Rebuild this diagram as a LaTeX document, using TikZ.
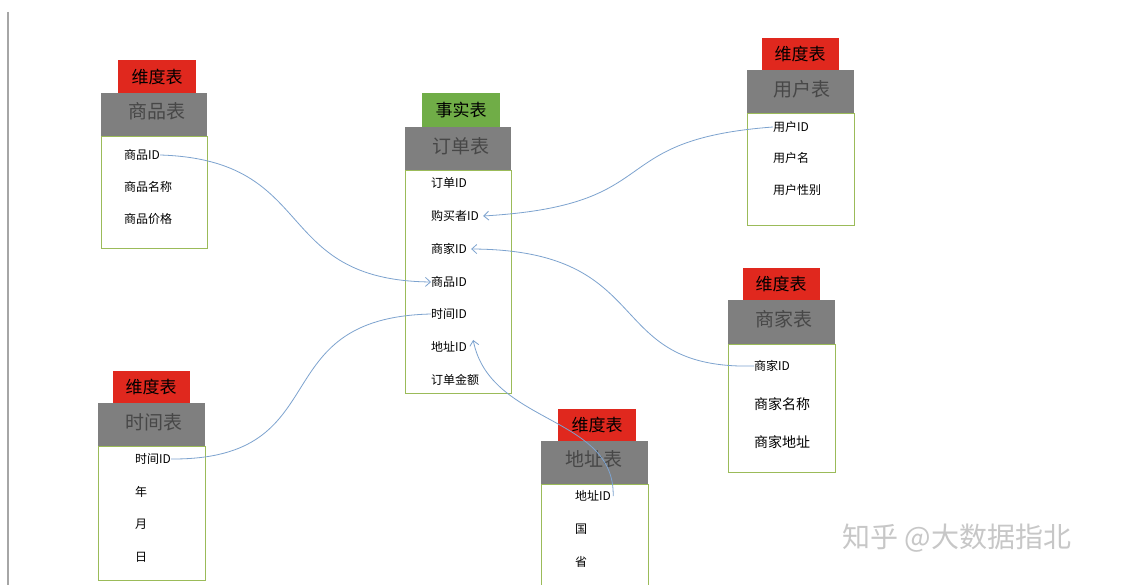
\documentclass[tikz,border=0pt]{standalone}
\usepackage{fontspec}
\setmainfont{Noto Sans CJK SC}
\usetikzlibrary{arrows.meta}
\definecolor{tagred}{HTML}{E0281E}
\definecolor{taggreen}{HTML}{70AD47}
\definecolor{hdr}{HTML}{7F7F7F}
\definecolor{brd}{HTML}{9BBB59}
\definecolor{lnk}{HTML}{7DA3CF}
\begin{document}
\begin{tikzpicture}[x=1pt,y=-1pt,
  body/.style={draw=brd,line width=0.8pt,fill=white},
  hbox/.style={fill=hdr},
  tagr/.style={fill=tagred},
  tagg/.style={fill=taggreen},
  tagtxt/.style={font=\fontsize{17}{17}\selectfont,text=black},
  htxt/.style={font=\fontsize{19}{19}\selectfont,text=black!72},
  row/.style={anchor=west,font=\fontsize{12}{12}\selectfont,inner sep=0pt},
  rowb/.style={anchor=west,font=\fontsize{14}{14}\selectfont,inner sep=0pt},
  link/.style={draw=lnk,line width=0.8pt},
  arr/.style={-{Straight Barb[length=5pt,width=9pt]}}]
\useasboundingbox (0,0) rectangle (1122,585);
\fill[white] (0,0) rectangle (1122,585);
\draw[black!35,line width=1.5pt] (8,12) -- (8,585);
% 商品表
\draw[body] (101,136) rectangle (207,248);
\fill[hbox] (101,93) rectangle (207,136);
\fill[tagr] (118,60) rectangle (196,93);
\node[tagtxt] (t1) at (157,77) {维度表};
\node[htxt] (h1) at (157,111) {商品表};
\node[row] (sp1) at (124,155) {商品ID};
\node[row] (sp2) at (124,187) {商品名称};
\node[row] (sp3) at (124,219) {商品价格};
% 订单表
\draw[body] (405,170) rectangle (511,393);
\fill[hbox] (405,127) rectangle (511,170);
\fill[tagg] (422,93) rectangle (500,127);
\node[tagtxt] (t2) at (461,110) {事实表};
\node[htxt] (h2) at (461,146) {订单表};
\node[row] (o1) at (431,183) {订单ID};
\node[row] (o2) at (431,216) {购买者ID};
\node[row] (o3) at (431,249) {商家ID};
\node[row] (o4) at (431,282) {商品ID};
\node[row] (o5) at (431,314) {时间ID};
\node[row] (o6) at (431,347) {地址ID};
\node[row] (o7) at (431,380) {订单金额};
% 用户表
\draw[body] (747,113) rectangle (854,225);
\fill[hbox] (747,70) rectangle (854,113);
\fill[tagr] (762,38) rectangle (839,70);
\node[tagtxt] (t3) at (800,54) {维度表};
\node[htxt] (h3) at (802,89) {用户表};
\node[row] (u1) at (773,127) {用户ID};
\node[row] (u2) at (773,158) {用户名};
\node[row] (u3) at (773,190) {用户性别};
% 商家表
\draw[body] (728,344) rectangle (835,472);
\fill[hbox] (728,300) rectangle (835,344);
\fill[tagr] (743,268) rectangle (820,300);
\node[tagtxt] (t4) at (781,284) {维度表};
\node[htxt] (h4) at (784,319) {商家表};
\node[row] (m1) at (754,366) {商家ID};
\node[rowb] (m2) at (754,404) {商家名称};
\node[rowb] (m3) at (754,442) {商家地址};
% 时间表
\draw[body] (98,446) rectangle (205,580);
\fill[hbox] (98,403) rectangle (205,446);
\fill[tagr] (113,371) rectangle (190,403);
\node[tagtxt] (t5) at (151,387) {维度表};
\node[htxt] (h5) at (154,422) {时间表};
\node[row] (s1) at (135,459) {时间ID};
\node[row] (s2) at (135,492) {年};
\node[row] (s3) at (135,524) {月};
\node[row] (s4) at (135,557) {日};
% 地址表
\draw[body] (541,484) rectangle (648,590);
\fill[hbox] (541,441) rectangle (648,484);
\fill[tagr] (558,409) rectangle (636,441);
\node[tagtxt] (t6) at (597,425) {维度表};
\node[htxt] (h6) at (594,459) {地址表};
\node[row] (d1) at (575,496) {地址ID};
\node[row] (d2) at (575,529) {国};
\node[row] (d3) at (575,562) {省};
% links
\draw[link,arr] (sp1.east) .. controls (320,160) and (270,280) .. (o4.west);
\draw[link,arr] (u1.west) .. controls (600,140) and (670,205) .. ([xshift=4pt]o2.east);
\draw[link,arr] (m1.west) .. controls (600,370) and (660,250) .. ([xshift=4pt]o3.east);
\draw[link] (s1.east) .. controls (340,460) and (260,318) .. (o5.west);
\draw[link,arr] ([xshift=2pt]d1.east) .. controls (615,415) and (490,425) .. ([xshift=6pt,yshift=7pt]o6.east);
\node[text=black!22,font=\fontsize{28}{28}\selectfont] (wm) at (957,538) {知乎 @大数据指北};
\end{tikzpicture}
\end{document}
